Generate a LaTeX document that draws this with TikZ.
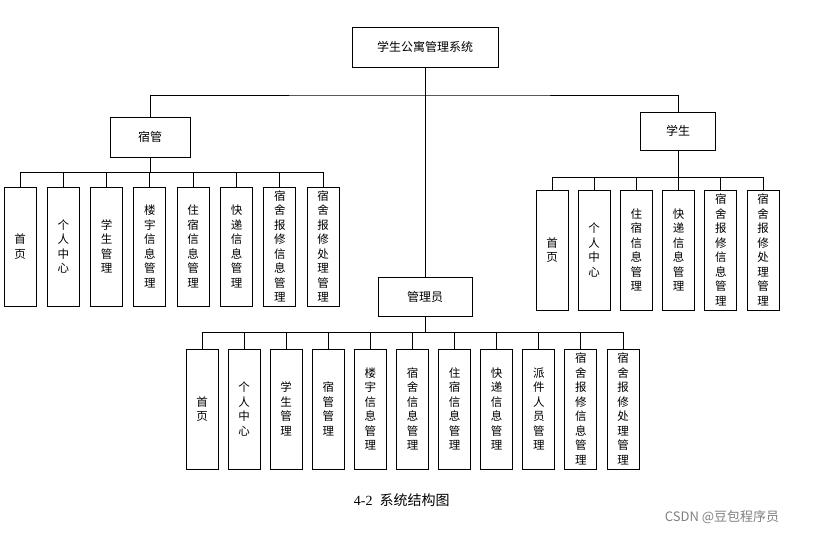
\documentclass[tikz,border=0pt]{standalone}
\usepackage{fontspec}
\newfontfamily\cjk{Noto Sans CJK SC}
\setmainfont{Liberation Serif}
\begin{document}
\begin{tikzpicture}[x=1pt,y=-1pt,
  box/.style={draw,line width=0.9pt,minimum width=32pt,minimum height=120pt,inner sep=0pt,font=\cjk\fontsize{11.5}{14.5}\selectfont,align=center},
  top/.style={draw,line width=0.9pt,inner sep=0pt,font=\cjk\fontsize{12}{14}\selectfont},
  ln/.style={line width=0.9pt}]
\useasboundingbox (0,0) rectangle (823,536);
\node[top,minimum width=146pt,minimum height=40pt] (root) at (425,47) {学生公寓管理系统};
\node[top,minimum width=80pt,minimum height=40pt] (sg) at (150,137) {宿管};
\node[top,minimum width=75pt,minimum height=38pt] (xs) at (678,131) {学生};
\node[top,minimum width=94pt,minimum height=39pt] (gly) at (425,296.5) {管理员};
\coordinate (j) at (425,95);
\draw[ln] (root.south) -- (gly.north);
\draw[ln] (sg.north) |- (j) -| (xs.north);
% left children
\foreach \i/\t in {0/首\\页,1/个\\人\\中\\心,2/学\\生\\管\\理,3/楼\\宇\\信\\息\\管\\理,4/住\\宿\\信\\息\\管\\理,5/快\\递\\信\\息\\管\\理,6/宿\\舍\\报\\修\\信\\息\\管\\理,7/宿\\舍\\报\\修\\处\\理\\管\\理}{
  \node[box,minimum height=119pt] (l\i) at ({20+43.3*\i},246.5) {\t};
  \draw[ln] (sg.south) -- (150,172) -| (l\i.north);
}
\foreach \i/\t in {0/首\\页,1/个\\人\\中\\心,2/住\\宿\\信\\息\\管\\理,3/快\\递\\信\\息\\管\\理,4/宿\\舍\\报\\修\\信\\息\\管\\理,5/宿\\舍\\报\\修\\处\\理\\管\\理}{
  \node[box] (r\i) at ({552+42.2*\i},250) {\t};
  \draw[ln] (xs.south) -- (678,177) -| (r\i.north);
}
\foreach \i/\t in {0/首\\页,1/个\\人\\中\\心,2/学\\生\\管\\理,3/宿\\管\\管\\理,4/楼\\宇\\信\\息\\管\\理,5/宿\\舍\\信\\息\\管\\理,6/住\\宿\\信\\息\\管\\理,7/快\\递\\信\\息\\管\\理,8/派\\件\\人\\员\\管\\理,9/宿\\舍\\报\\修\\信\\息\\管\\理,10/宿\\舍\\报\\修\\处\\理\\管\\理}{
  \node[box] (m\i) at ({202+42.1*\i},409) {\t};
  \draw[ln] (gly.south) -- (425,332) -| (m\i.north);
}
\node[font=\fontsize{14}{16}\selectfont] (cap) at (400,500) {图 4-2\ \ {\cjk 系统结构图}\char"21B5};
\node[font=\fontsize{13}{15}\selectfont] (ret) at (790,476) {\char"21B5};
\node[font=\cjk\fontsize{13}{15}\selectfont,text=gray] (wm) at (722,517) {CSDN @豆包程序员};
\end{tikzpicture}
\end{document}
